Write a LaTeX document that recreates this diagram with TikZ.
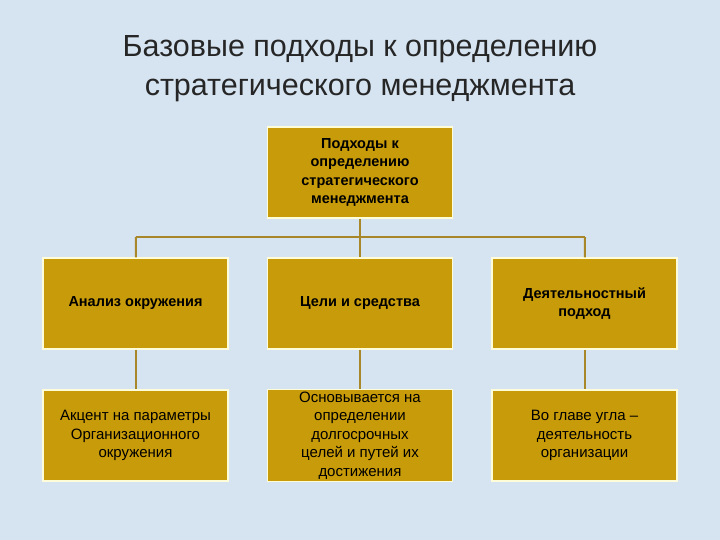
\documentclass[tikz,border=0pt]{standalone}
\usepackage{fontspec}
\setmainfont{Liberation Sans}
\begin{document}
\begin{tikzpicture}[x=1pt,y=-1pt,
  box/.style={draw=white!85!yellow,line width=1.2pt,fill=boxc,minimum width=185pt,minimum height=91pt,align=center,inner sep=2pt},
  bt/.style={font=\bfseries\fontsize{14.5}{18.5}\selectfont},
  nt/.style={font=\fontsize{15}{18.5}\selectfont},
  link/.style={draw=linec,line width=2pt}]
\definecolor{boxc}{HTML}{C89B0A}
\definecolor{linec}{HTML}{A8862A}
\definecolor{bgc}{HTML}{D6E4F1}
\fill[bgc] (0,0) rectangle (720,540);
\useasboundingbox (0,0) rectangle (720,540);
\node[font=\fontsize{30.5}{39}\selectfont,align=center,text=black!85] (title) at (360,69) {Базовые подходы к определению\\стратегического менеджмента};
\coordinate (bus) at (360,237);
\coordinate (bl) at (136,237);
\coordinate (br) at (585,237);
\draw[link] (bl) -- (br);
\node[box,bt] (top) at (360,172.5) {Подходы к\\определению\\стратегического\\менеджмента};
\node[box,bt] (a1) at (135.5,303.5) {Анализ окружения};
\node[box,bt] (a2) at (360,303.5) {Цели и средства};
\node[box,bt] (a3) at (584.5,303.5) {Деятельностный\\подход};
\node[box,nt] (b1) at (135.5,435.5) {Акцент на параметры\\Организационного\\окружения};
\node[box,nt] (b2) at (360,435.5) {Основывается на\\определении\\долгосрочных\\целей и путей их\\достижения};
\node[box,nt] (b3) at (584.5,435.5) {Во главе угла –\\деятельность\\организации};
\draw[link] (top) -- (bus);
\draw[link] (bl) -- (a1);
\draw[link] (bus) -- (a2);
\draw[link] (br) -- (a3);
\draw[link] (a1) -- (b1);
\draw[link] (a2) -- (b2);
\draw[link] (a3) -- (b3);
\end{tikzpicture}
\end{document}
